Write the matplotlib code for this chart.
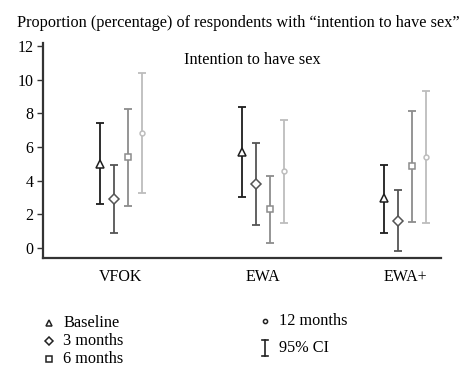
import matplotlib
matplotlib.use("Agg")
import matplotlib.pyplot as plt
from matplotlib.lines import Line2D
import numpy as np

plt.rcParams['font.family'] = ['Liberation Serif', 'DejaVu Serif']

groups = ["VFOK", "EWA", "EWA+"]
series = ["Baseline", "3 months", "6 months", "12 months"]
values = {
    "Baseline":  [5.0, 5.7, 2.95],
    "3 months":  [2.9, 3.8, 1.6],
    "6 months":  [5.4, 2.3, 4.85],
    "12 months": [6.85, 4.55, 5.4],
}
ci_low = {
    "Baseline":  [2.6, 3.0, 0.9],
    "3 months":  [0.9, 1.35, -0.2],
    "6 months":  [2.5, 0.3, 1.55],
    "12 months": [3.25, 1.45, 1.5],
}
ci_high = {
    "Baseline":  [7.45, 8.4, 4.95],
    "3 months":  [4.9, 6.25, 3.45],
    "6 months":  [8.25, 4.25, 8.15],
    "12 months": [10.4, 7.6, 9.3],
}
yticks = [0, 2, 4, 6, 8, 10, 12]

markers = {"Baseline": "^", "3 months": "D", "6 months": "s", "12 months": "o"}
msizes = {"Baseline": 5.5, "3 months": 5, "6 months": 4.5, "12 months": 3.5}
colors = {"Baseline": "#1e1e1e", "3 months": "#555555", "6 months": "#8c8c8c", "12 months": "#bdbdbd"}
offsets = {"Baseline": -1.5, "3 months": -0.5, "6 months": 0.5, "12 months": 1.5}
step = 0.0986

fig = plt.figure(figsize=(4.74, 3.83), dpi=100)
ax = fig.add_axes([43/474, 1-258/383, (441-43)/474, (258-43)/383])

x = np.arange(len(groups))
for s in series:
    v = np.array(values[s]); lo = np.array(ci_low[s]); hi = np.array(ci_high[s])
    xs = x + offsets[s]*step
    ax.errorbar(xs, v, yerr=[v-lo, hi-v], fmt='none', ecolor=colors[s],
                elinewidth=1.3, capsize=3, capthick=1.3)
    ax.plot(xs, v, linestyle='none', marker=markers[s], markersize=msizes[s],
            markerfacecolor='white', markeredgecolor=colors[s], markeredgewidth=1.1)

ax.set_xlim(-0.549, 2.254)
ax.set_ylim(-0.61, 12.18)
ax.set_yticks(yticks)
ax.set_yticklabels([str(t) for t in yticks], fontsize=11.5)
ax.set_xticks(x)
ax.set_xticklabels(groups, fontsize=11.5)
ax.tick_params(axis='x', length=0, pad=8)
ax.tick_params(axis='y', length=4, width=1, color='#333333', pad=3)
for sp in ['top', 'right']:
    ax.spines[sp].set_visible(False)
for sp in ['left', 'bottom']:
    ax.spines[sp].set_linewidth(1.6)
    ax.spines[sp].set_color('#333333')
ax.spines['left'].set_bounds(-0.61, 12.18)

fig.text(17/474, 1-23/383, "Proportion (percentage) of respondents with \u201cintention to have sex\u201d",
         fontsize=11.7, ha='left', va='center')
fig.text(252/474, 1-60/383, "Intention to have sex", fontsize=11.7, ha='center', va='center')

# legend
def leg_marker(xp, yp, s):
    fig.add_artist(Line2D([xp/474], [1-yp/383], transform=fig.transFigure, linestyle='none',
                          marker=markers[s], markersize=msizes[s]-0.5, markerfacecolor='white',
                          markeredgecolor='#222222', markeredgewidth=1.1))

leg_items = [("Baseline", 49, 323), ("3 months", 49, 341), ("6 months", 49, 359), ("12 months", 265, 321)]
for s, xp, yp in leg_items:
    leg_marker(xp, yp, s)
    fig.text((xp+14)/474, 1-yp/383, s, fontsize=11.7, ha='left', va='center')

# CI symbol
cx = 265/474
fig.add_artist(Line2D([cx, cx], [1-340/383, 1-356/383], transform=fig.transFigure, color='#222222', lw=1.2))
for yy in (340, 356):
    fig.add_artist(Line2D([cx-3/474, cx+3/474], [1-yy/383, 1-yy/383], transform=fig.transFigure, color='#222222', lw=1.2))
fig.text(279/474, 1-348/383, "95% CI", fontsize=11.7, ha='left', va='center')

fig.savefig("out.png", dpi=100)
